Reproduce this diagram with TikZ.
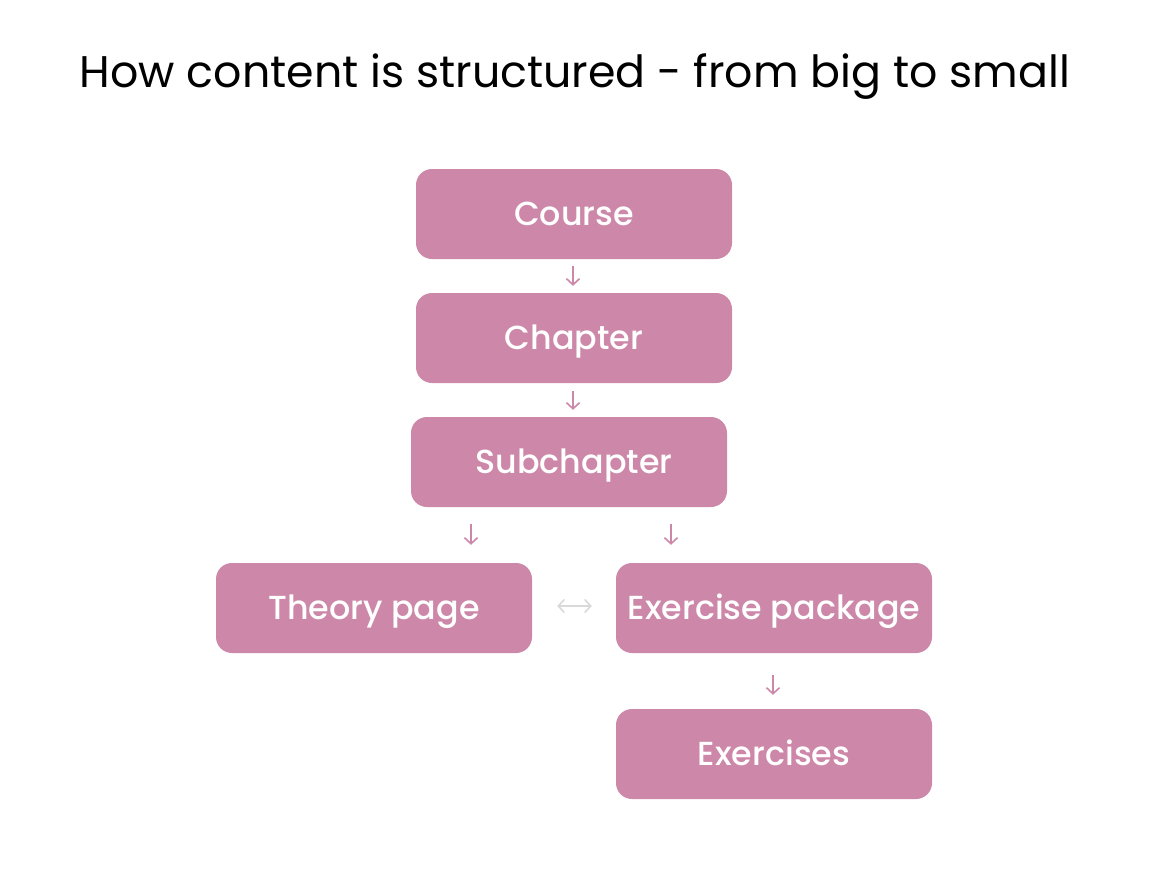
\documentclass[tikz,border=0pt]{standalone}
\usepackage{fontspec}
\setmainfont{Poppins}[BoldFont={Poppins Medium}]
\usetikzlibrary{arrows.meta}
\definecolor{boxpink}{HTML}{CD88A9}
\definecolor{lightarr}{HTML}{D9D9D9}
\begin{document}
\begin{tikzpicture}[x=1pt,y=-1pt,
  box/.style={fill=boxpink, draw=none, rounded corners=16pt, minimum width=316pt, minimum height=90pt, inner sep=0pt, text height=23pt, text depth=0pt, text=white, font=\bfseries\fontsize{33.3}{38}\selectfont},
  arr/.style={draw=boxpink, line width=1.6pt, -{Straight Barb[length=6pt,width=13pt,line width=1.6pt]}},
  darr/.style={draw=lightarr, line width=1.6pt, {Straight Barb[length=6pt,width=13pt,line width=1.6pt]}-{Straight Barb[length=6pt,width=13pt,line width=1.6pt]}}]
\useasboundingbox (0,0) rectangle (1149,881);
\node[font=\fontsize{44.3}{52}\selectfont] (title) at (575,77) {How content is structured - from big to small};
\node[box] (course) at (574,214) {Course};
\node[box] (chapter) at (574,338) {Chapter};
\node[box] (sub) at (569,462) {\hspace*{10pt}Subchapter};
\node[box] (theory) at (374,608) {Theory page};
\node[box] (expkg) at (774,608) {Exercise package};
\node[box] (ex) at (774,754) {Exercises};
\draw[arr, shorten <=7pt, shorten >=7pt] ([xshift=-1pt]course.south) -- ([xshift=-1pt]chapter.north);
\draw[arr, shorten <=8pt, shorten >=7pt] ([xshift=-1pt]chapter.south) -- ([xshift=4pt]sub.north);
\draw[arr, shorten <=17pt, shorten >=18pt] ([xshift=-98pt]sub.south) -- ([xshift=97pt]theory.north);
\draw[arr, shorten <=17pt, shorten >=18pt] ([xshift=102pt]sub.south) -- ([xshift=-103pt]expkg.north);
\draw[arr, shorten <=22pt, shorten >=14pt] ([xshift=-1pt]expkg.south) -- ([xshift=-1pt]ex.north);
\draw[darr, shorten <=25pt, shorten >=24pt] ([yshift=2pt]theory.east) -- ([yshift=2pt]expkg.west);
\end{tikzpicture}
\end{document}
